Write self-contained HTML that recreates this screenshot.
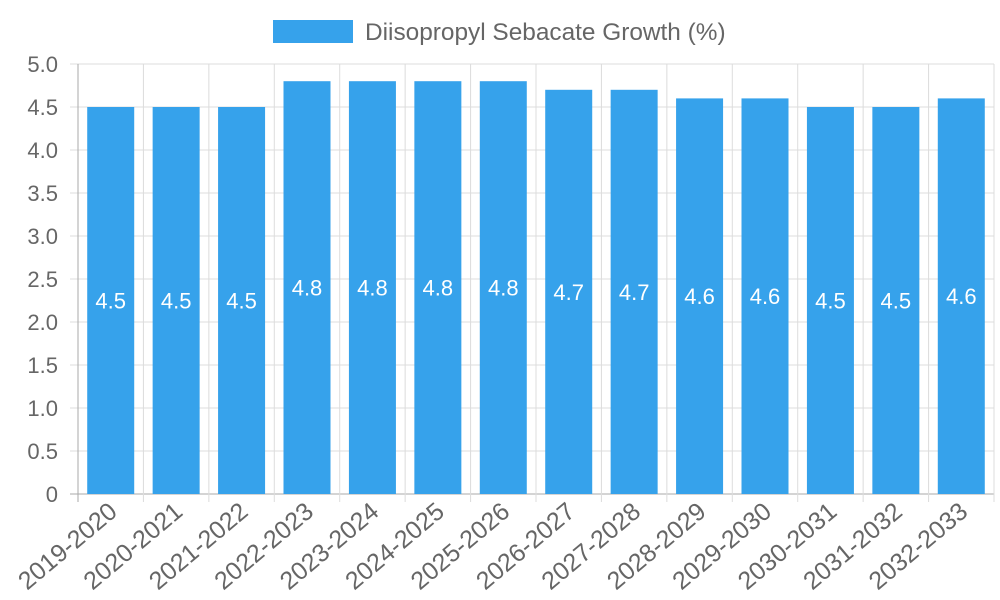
<!DOCTYPE html>
<html><head><meta charset="utf-8"><style>
body{margin:0;background:#fff;}
svg{display:block;font-family:"Liberation Sans",sans-serif;}
</style></head><body>
<svg id="c" width="1000" height="600">
<rect x="273" y="20" width="80" height="23" fill="#36A2EB"/>
<text x="365" y="40" font-size="24.4" fill="#666">Diisopropyl Sebacate Growth (%)</text>
</svg>
<script>
const categories=["2019-2020","2020-2021","2021-2022","2022-2023","2023-2024","2024-2025","2025-2026","2026-2027","2027-2028","2028-2029","2029-2030","2030-2031","2031-2032","2032-2033"];
const values=[4.5,4.5,4.5,4.8,4.8,4.8,4.8,4.7,4.7,4.6,4.6,4.5,4.5,4.6];
const yTicks=[0,0.5,1.0,1.5,2.0,2.5,3.0,3.5,4.0,4.5,5.0];
const yTickLabels=["0","0.5","1.0","1.5","2.0","2.5","3.0","3.5","4.0","4.5","5.0"];
const svg=document.getElementById('c');const NS="http://www.w3.org/2000/svg";
const L=78,R=994,T=64,B=494,yMax=5;
const cw=(R-L)/categories.length;
const y=v=>B-(v/yMax)*(B-T);
const x=i=>L+i*cw;
function mk(t,a){const e=document.createElementNS(NS,t);for(const k in a)e.setAttribute(k,a[k]);svg.appendChild(e);return e;}
yTicks.forEach((v,i)=>{
 const g=mk('line',{x1:70,x2:R,y1:y(v),y2:y(v),stroke:v===0?'#aaa':'#dcdcdc','stroke-width':1});
 
 
 const t=mk('text',{x:58,y:y(v)+8,'text-anchor':'end','font-size':22,fill:'#666'});
 t.textContent=yTickLabels[i];
 
 
});
for(let i=0;i<=categories.length;i++){
 const g=mk('line',{x1:x(i),x2:x(i),y1:T,y2:B+8,stroke:i===0?'#aaa':'#dcdcdc','stroke-width':1});
 
 
}
categories.forEach((c,i)=>{
 const bw=47,bx=x(i)+(cw-bw)/2;
 const r=mk('rect',{x:bx,y:y(values[i]),width:bw,height:B-y(values[i]),fill:'#36A2EB'});
 
 
 const vl=mk('text',{x:bx+bw/2,y:(y(values[i])+B)/2+8,'text-anchor':'middle','font-size':22,fill:'#fff'});
 vl.textContent=values[i].toFixed(1);
 
 
 const cx=x(i)+cw/2+8,cy=514;
 const t=mk('text',{x:cx,y:cy,'text-anchor':'end','font-size':25,fill:'#666',transform:`rotate(-40 ${cx} ${cy})`});
 t.textContent=c;
 
 
});
</script>
</body></html>
